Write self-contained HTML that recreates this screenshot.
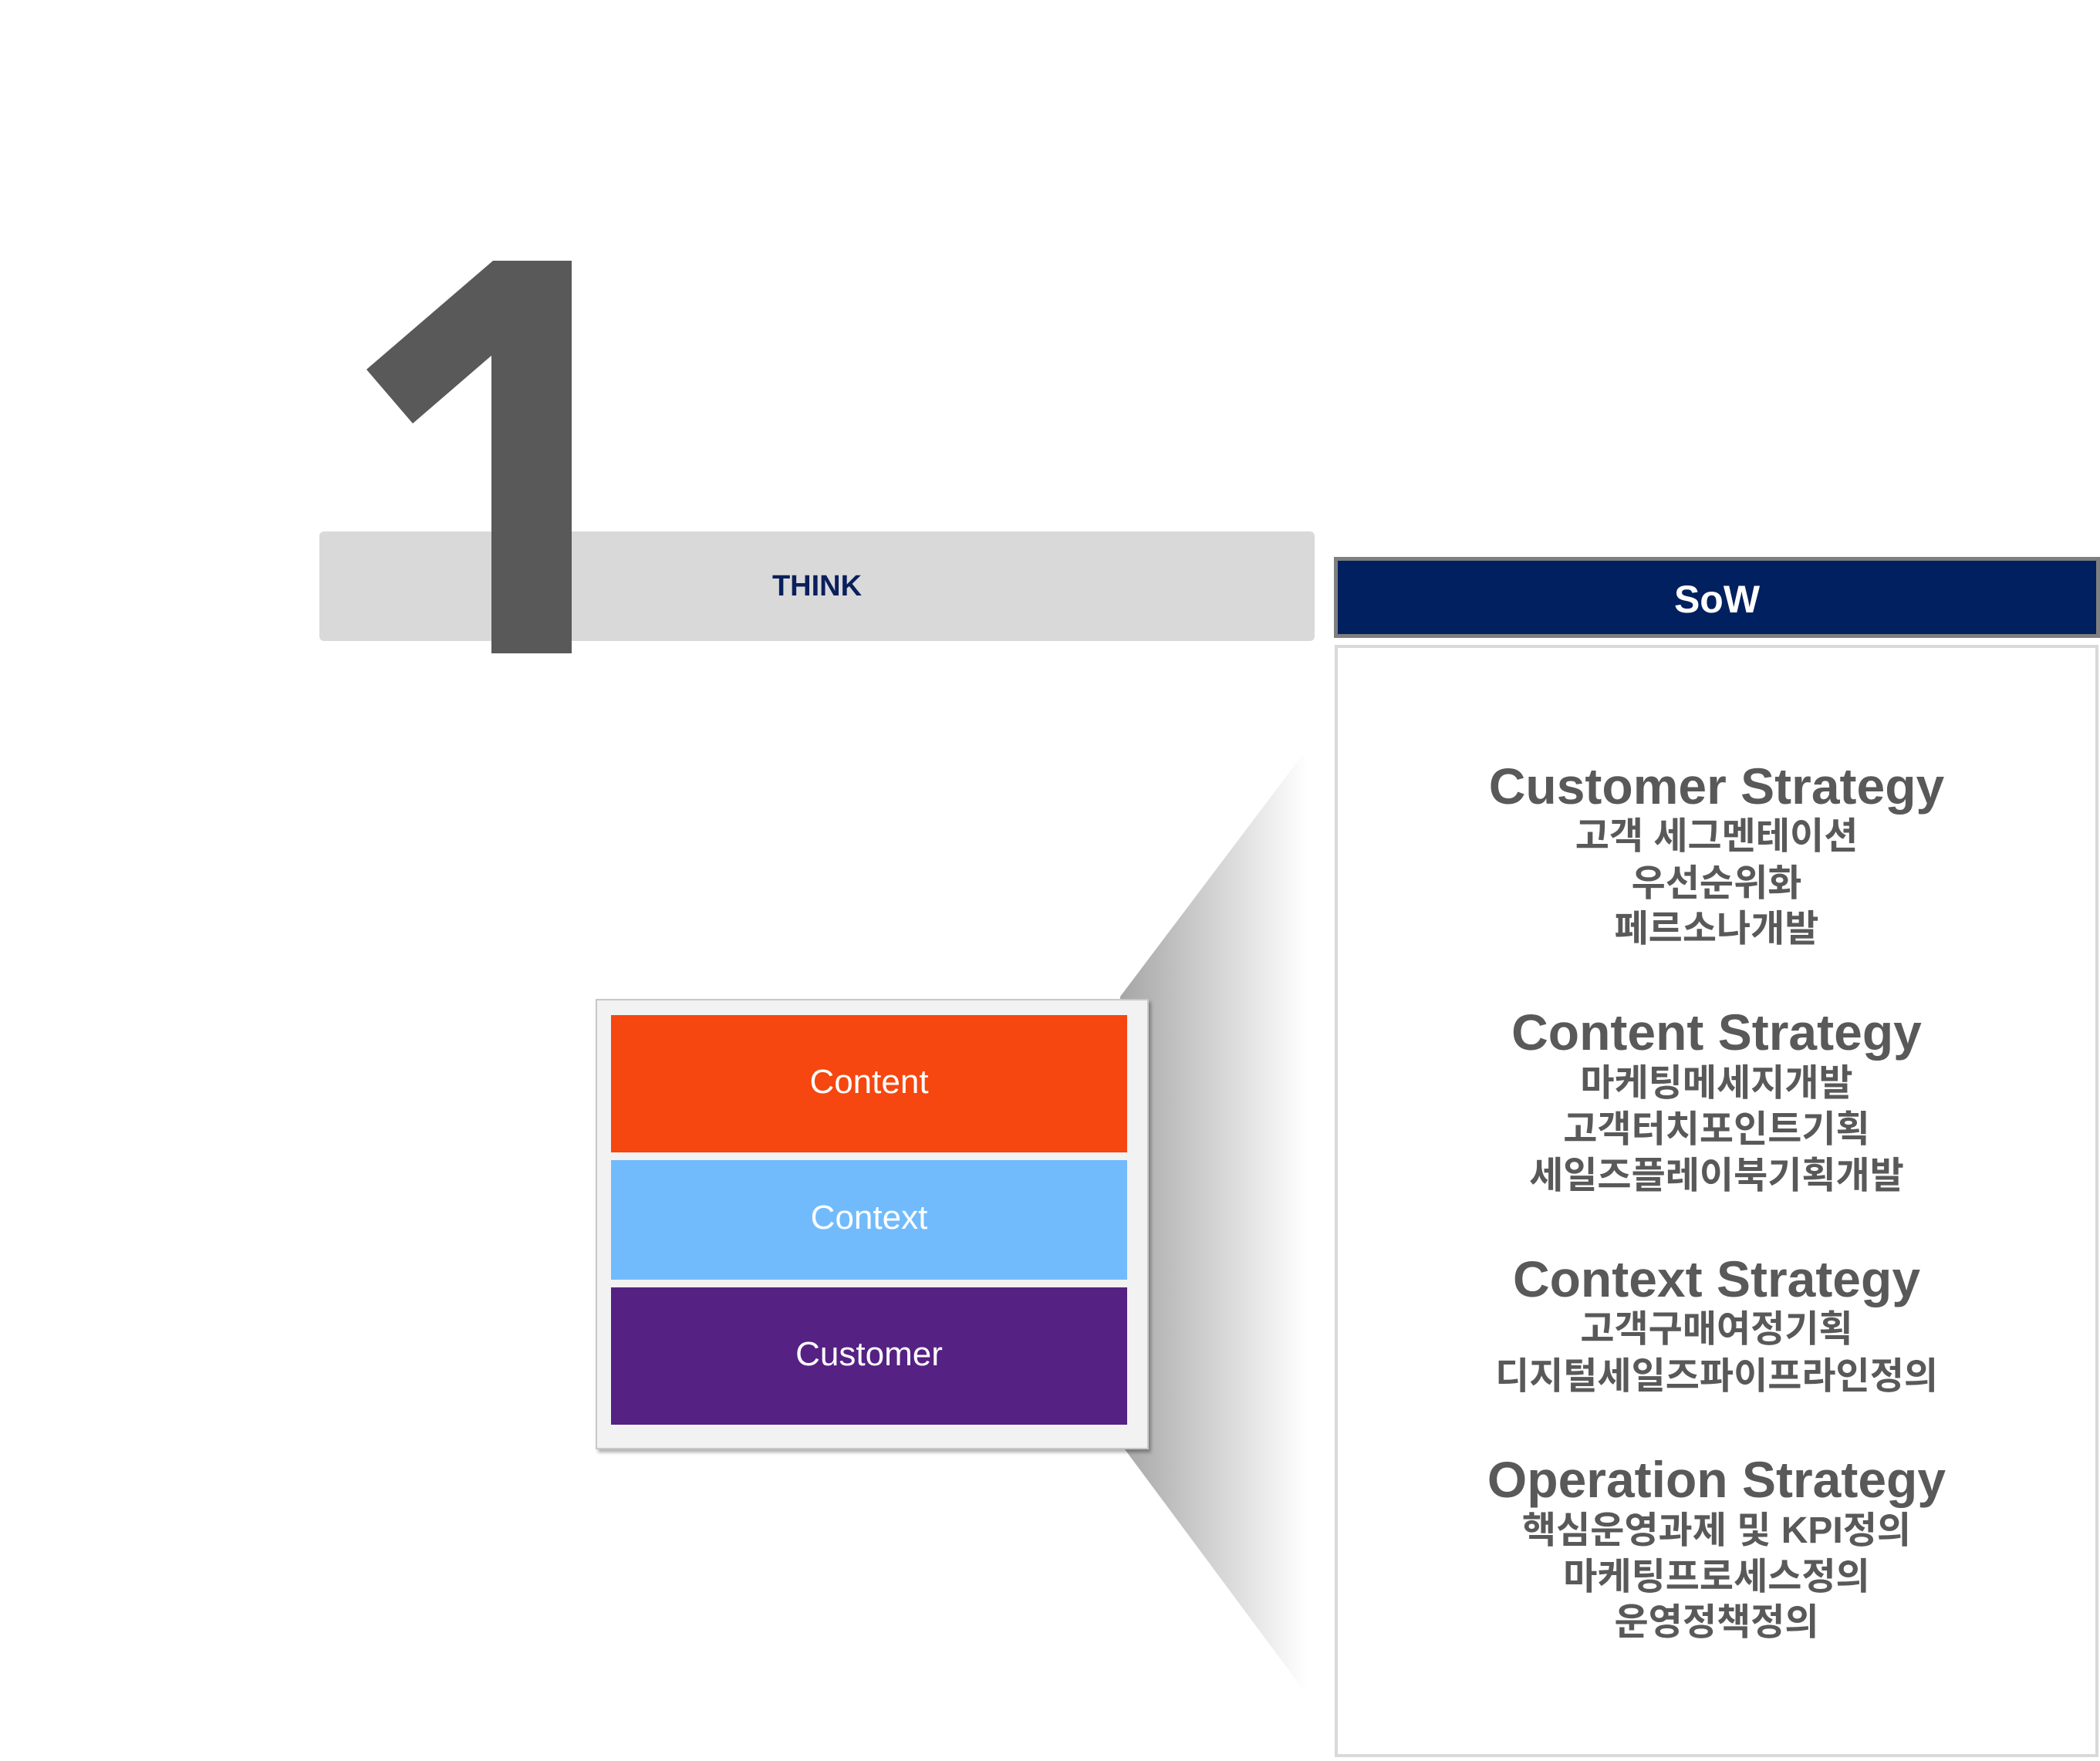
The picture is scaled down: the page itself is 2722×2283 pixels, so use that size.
<!DOCTYPE html>
<html><head><meta charset="utf-8"><style>
html,body{margin:0;padding:0;background:#fff;}
body{width:2722px;height:2283px;position:relative;overflow:hidden;font-family:"Liberation Sans","Noto Sans CJK KR",sans-serif;}
.a{position:absolute;}
.t{position:absolute;left:1730px;width:990px;text-align:center;color:#595959;font-weight:bold;white-space:nowrap;}
.h{font-size:66px;line-height:80px;}
.k{font-size:48px;line-height:60px;}
.lbl{position:absolute;left:792px;width:669px;text-align:center;color:#fff;font-size:44px;font-family:"Liberation Sans",sans-serif;}
</style></head><body>
<svg class="a" style="left:0;top:0" width="2722" height="2283">
<defs><linearGradient id="g" x1="0" x2="1" y1="0" y2="0"><stop offset="0" stop-color="#a6a6a6"/><stop offset="1" stop-color="#ffffff"/></linearGradient></defs>
<polygon points="1452,1292 1694,971 1694,2197 1458,1879" fill="url(#g)"/>
<rect x="414" y="689" width="1290" height="142" rx="6" fill="#d9d9d9"/>
<polygon points="639,338 741,338 741,847 637,847 637,461 535,549 475,479" fill="#595959"/>
</svg>
<div class="a" style="left:414px;top:735px;width:1290px;text-align:center;font-size:38px;font-weight:bold;color:#0a1f5c;line-height:50px;">THINK</div>
<div class="a" style="left:1729px;top:722px;width:983px;height:95px;background:#012060;border:5px solid #7f7f7f;color:#fff;font-weight:bold;font-size:50px;text-align:center;line-height:100px;">SoW</div>
<div class="a" style="left:1730px;top:836px;width:982px;height:1434px;border:4px solid #d9d9d9;background:#fff;"></div>
<div class="a" style="left:772px;top:1295px;width:713px;height:580px;background:#f2f2f2;border:2px solid #c8c8c8;box-shadow:3px 4px 4px rgba(0,0,0,0.3);"></div>
<div class="a" style="left:792px;top:1316px;width:669px;height:178px;background:#f5470f;"></div>
<div class="a" style="left:792px;top:1504px;width:669px;height:155px;background:#71bbfd;"></div>
<div class="a" style="left:792px;top:1669px;width:669px;height:178px;background:#552183;"></div>
<div class="lbl" style="top:1378px;line-height:50px;">Content</div>
<div class="lbl" style="top:1554px;line-height:50px;">Context</div>
<div class="lbl" style="top:1731px;line-height:50px;">Customer</div>

<div class="t h" style="top:979px;">Customer Strategy</div>
<div class="t k" style="top:1055px;">고객 세그멘테이션</div>
<div class="t k" style="top:1116px;">우선순위화</div>
<div class="t k" style="top:1175px;">페르소나개발</div>

<div class="t h" style="top:1298px;">Content Strategy</div>
<div class="t k" style="top:1375px;">마케팅메세지개발</div>
<div class="t k" style="top:1435px;">고객터치포인트기획</div>
<div class="t k" style="top:1495px;">세일즈플레이북기획개발</div>

<div class="t h" style="top:1618px;">Context Strategy</div>
<div class="t k" style="top:1694px;">고객구매여정기획</div>
<div class="t k" style="top:1755px;">디지털세일즈파이프라인정의</div>

<div class="t h" style="top:1878px;">Operation Strategy</div>
<div class="t k" style="top:1955px;">핵심운영과제 및 KPI정의</div>
<div class="t k" style="top:2015px;">마케팅프로세스정의</div>
<div class="t k" style="top:2074px;">운영정책정의</div>
</body></html>
